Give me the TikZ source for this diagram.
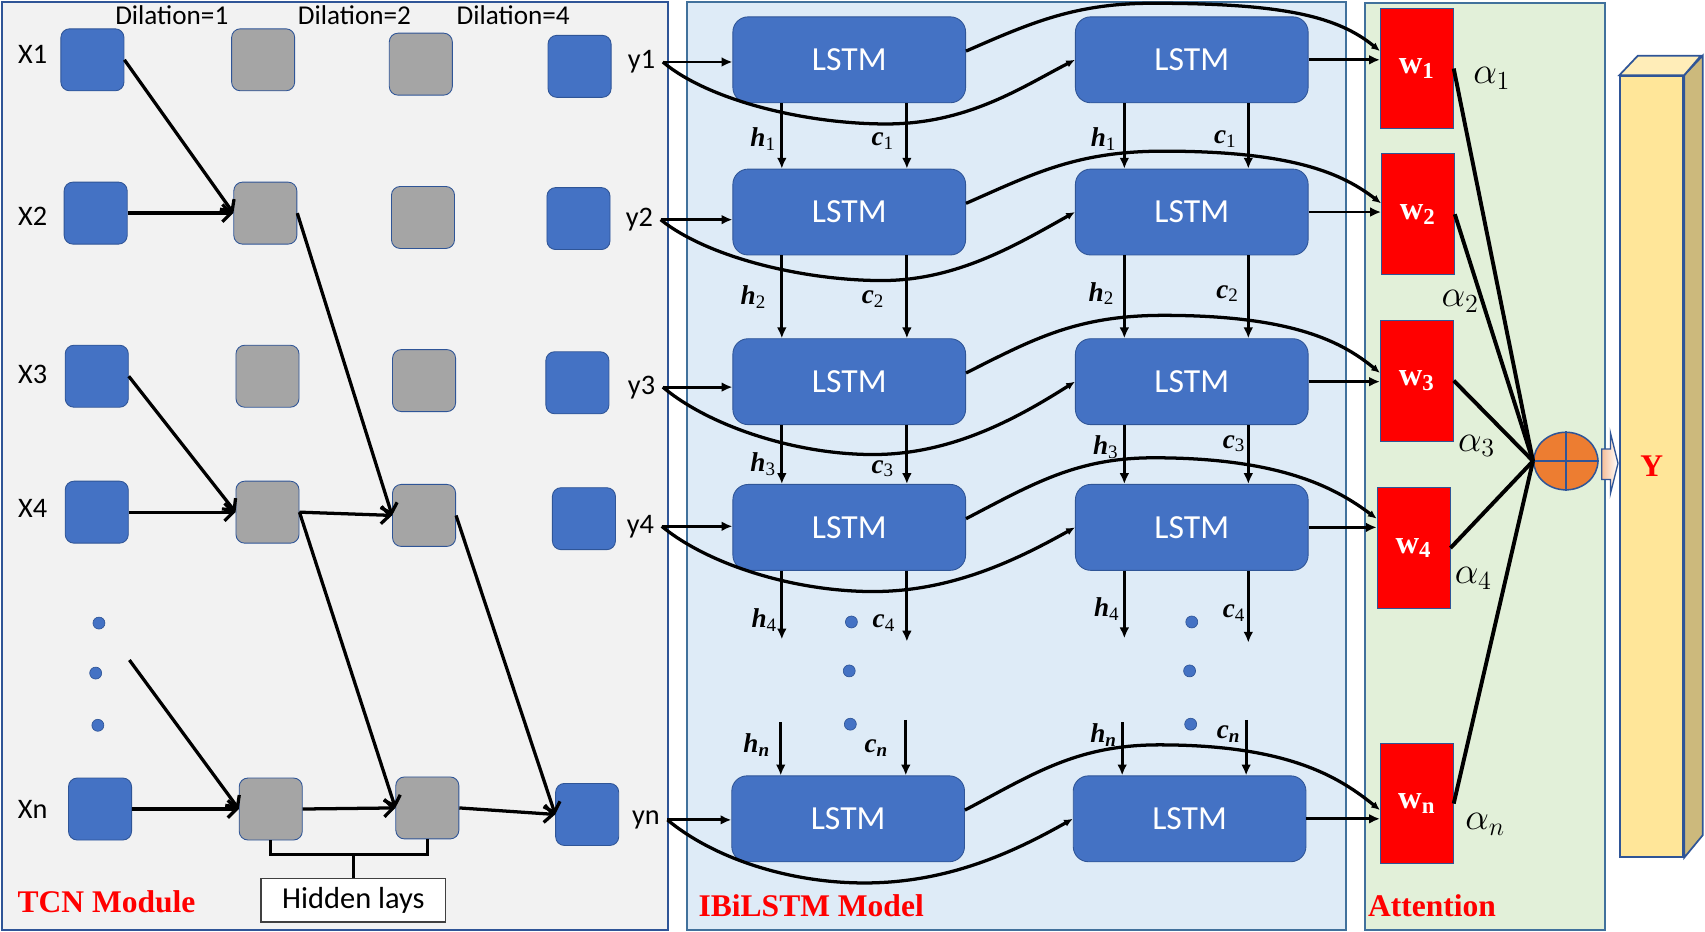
\documentclass[tikz,border=0pt]{standalone}
\usepackage{fontspec}
\setmainfont{Liberation Serif}
\newfontfamily\calfont{Carlito}
\usetikzlibrary{arrows.meta,calc,shapes.geometric}
\definecolor{boxblue}{HTML}{4472C4}
\definecolor{edgeblue}{HTML}{2F5597}
\definecolor{paneledge}{HTML}{41719C}
\definecolor{boxgray}{HTML}{A5A5A5}
\definecolor{tcnbg}{HTML}{F2F2F2}
\definecolor{lstmbg}{HTML}{DEEBF7}
\definecolor{attbg}{HTML}{E2F0D9}
\definecolor{yfront}{HTML}{FFE699}
\definecolor{yside}{HTML}{CCB97C}
\definecolor{sumorange}{HTML}{ED7D31}
\begin{document}
\begin{tikzpicture}
[x=0.5pt, y=-0.5pt,
inbox/.style={draw=edgeblue, fill=boxblue, rounded corners=4pt, minimum width=29pt, minimum height=28.5pt, inner sep=0pt},
hidbox/.style={inbox, fill=boxgray},
lstm/.style={draw=edgeblue, fill=boxblue, rounded corners=7pt, minimum width=107pt, minimum height=39.5pt, text=white, font=\calfont\fontsize{15.5}{18}\selectfont},
wbox/.style={draw=edgeblue, fill=red, minimum width=33.5pt, minimum height=55.5pt, inner sep=0pt, text=white, font=\bfseries\fontsize{15}{17}\selectfont},
dotmark/.style={circle, fill=boxblue, draw=edgeblue, line width=0.3pt, inner sep=0pt, minimum size=5.5pt},
lab/.style={font=\calfont\fontsize{13}{15}\selectfont},
hc/.style={font=\fontsize{12.5}{14}\selectfont},
al/.style={font=\fontsize{18}{20}\selectfont},
paneltitle/.style={text=red, font=\bfseries\fontsize{14.5}{17}\selectfont},
tcn/.style={line width=1.5pt, -{Straight Barb[length=4pt,width=8pt]}},
flow/.style={line width=1.3pt, -{Latex[length=5pt,width=4.5pt]}},
wave/.style={line width=1.5pt, -{Latex[length=4pt,width=3.5pt]}},
weight/.style={line width=1.8pt}]
\useasboundingbox (0,0) rectangle (1568,857);
\draw[edgeblue, line width=1pt, fill=tcnbg] (2,2) rectangle (614,855);
\draw[paneledge, line width=0.8pt, fill=lstmbg] (632,2) rectangle (1238,855);
\draw[paneledge, line width=0.8pt, fill=attbg] (1255,3) rectangle (1476,855);
\node[lab, font=\calfont\fontsize{12.5}{15}\selectfont] (dil1) at (158,14) {Dilation=1};
\node[lab, font=\calfont\fontsize{12.5}{15}\selectfont] (dil2) at (326,14) {Dilation=2};
\node[lab, font=\calfont\fontsize{12.5}{15}\selectfont] (dil4) at (472,14) {Dilation=4};
\node[lab] (lx1) at (30,50) {X1};
\node[lab] (lx2) at (30,199) {X2};
\node[lab] (lx3) at (30,344) {X3};
\node[lab] (lx4) at (30,468) {X4};
\node[lab] (lx5) at (30,744) {Xn};
\node[inbox] (in1) at (85,55) {};
\node[inbox] (in2) at (88,196) {};
\node[inbox] (in3) at (89,346) {};
\node[inbox] (in4) at (89,471) {};
\node[inbox] (in5) at (92,744) {};
\node[hidbox] (hA1) at (242,55) {};
\node[hidbox] (hA2) at (244,196) {};
\node[hidbox] (hA3) at (246,346) {};
\node[hidbox] (hA4) at (246,471) {};
\node[hidbox] (hA5) at (249,744) {};
\node[hidbox] (hB1) at (387,59) {};
\node[hidbox] (hB2) at (389,200) {};
\node[hidbox] (hB3) at (390,350) {};
\node[hidbox] (hB4) at (390,474) {};
\node[hidbox] (hB5) at (393,743) {};
\node[inbox] (out1) at (533,61) {};
\node[inbox] (out2) at (532,201) {};
\node[inbox] (out3) at (531,352) {};
\node[inbox] (out4) at (537,477) {};
\node[inbox] (out5) at (540,749) {};
\node[dotmark] (td1) at (91,573) {};
\node[dotmark] (td2) at (88,619) {};
\node[dotmark] (td3) at (90,667) {};
\coordinate (tdots) at (119,607);
\node[lab] (ly1) at (590,57) {y1};
\node[lab] (ly2) at (588,202) {y2};
\node[lab] (ly3) at (590,356) {y3};
\node[lab] (ly4) at (589,484) {y4};
\node[lab] (ly5) at (594,754) {yn};
\draw[tcn] (in1.east) -- (hA2.west);
\draw[tcn] (in2.east) -- (hA2.west);
\draw[tcn] (hA2.east) -- (hB4.west);
\draw[tcn] (in3.east) -- (hA4.west);
\draw[tcn] (in4.east) -- (hA4.west);
\draw[tcn] (hA4.east) -- (hB4.west);
\draw[tcn] (hA4.east) -- (hB5.west);
\draw[tcn] (hB4.east) -- (out5.west);
\draw[tcn] (tdots) -- (hA5.west);
\draw[tcn] (in5.east) -- (hA5.west);
\draw[tcn] (hA5.east) -- (hB5.west);
\draw[tcn] (hB5.east) -- (out5.west);
\node[draw=black!75, fill=white, line width=0.6pt, minimum width=85pt, minimum height=20pt, lab, font=\calfont\fontsize{14}{16}\selectfont] (hid) at (325,828) {Hidden lays};
\draw[line width=1.3pt] (hA5.south) -- ++(0,13) -| (hB5.south);
\draw[line width=1.3pt] (hid.north) -- ++(0,-22);
\node[paneltitle] (ttcn) at (98,829) {TCN Module};
\node[lstm] (L1) at (781,55) {LSTM};
\node[lstm] (L2) at (781,195) {LSTM};
\node[lstm] (L3) at (781,351) {LSTM};
\node[lstm] (L4) at (781,485) {LSTM};
\node[lstm] (L5) at (780,753) {LSTM};
\node[lstm] (R1) at (1096,55) {LSTM};
\node[lstm] (R2) at (1096,195) {LSTM};
\node[lstm] (R3) at (1096,351) {LSTM};
\node[lstm] (R4) at (1096,485) {LSTM};
\node[lstm] (R5) at (1094,753) {LSTM};
\draw[flow] (ly1.east) -- (ly1.east -| L1.west);
\draw[flow] (ly2.east) -- (ly2.east -| L2.west);
\draw[flow] (ly3.east) -- (ly3.east -| L3.west);
\draw[flow] (ly4.east) -- (ly4.east -| L4.west);
\draw[flow] (ly5.east) -- (ly5.east -| L5.west);
\draw[flow] ([xshift=-31pt]L1.south) -- ([xshift=-31pt]L2.north);
\draw[flow] ([xshift=26.5pt]L1.south) -- ([xshift=26.5pt]L2.north);
\draw[flow] ([xshift=-31pt]L2.south) -- ([xshift=-31pt]L3.north);
\draw[flow] ([xshift=26.5pt]L2.south) -- ([xshift=26.5pt]L3.north);
\draw[flow] ([xshift=-31pt]L3.south) -- ([xshift=-31pt]L4.north);
\draw[flow] ([xshift=26.5pt]L3.south) -- ([xshift=26.5pt]L4.north);
\draw[flow] ([xshift=-31pt]R1.south) -- ([xshift=-31pt]R2.north);
\draw[flow] ([xshift=26pt]R1.south) -- ([xshift=26pt]R2.north);
\draw[flow] ([xshift=-31pt]R2.south) -- ([xshift=-31pt]R3.north);
\draw[flow] ([xshift=26pt]R2.south) -- ([xshift=26pt]R3.north);
\draw[flow] ([xshift=-31pt]R3.south) -- ([xshift=-31pt]R4.north);
\draw[flow] ([xshift=26pt]R3.south) -- ([xshift=26pt]R4.north);
\coordinate (lh4) at (719,588);
\coordinate (lc4) at (834,590);
\coordinate (lhn) at (718,664);
\coordinate (lcn) at (833,662);
\coordinate (rh4) at (1034,587);
\coordinate (rc4) at (1148,591);
\coordinate (rhn) at (1032,664);
\coordinate (rcn) at (1146,662);
\draw[flow] ([xshift=-31pt]L4.south) -- (lh4);
\draw[flow] ([xshift=26.5pt]L4.south) -- (lc4);
\draw[flow] (lhn) -- ([xshift=-31pt]L5.north);
\draw[flow] (lcn) -- ([xshift=26.5pt]L5.north);
\draw[flow] ([xshift=-31pt]R4.south) -- (rh4);
\draw[flow] ([xshift=26pt]R4.south) -- (rc4);
\draw[flow] (rhn) -- ([xshift=-31pt]R5.north);
\draw[flow] (rcn) -- ([xshift=26pt]R5.north);
\node[dotmark] (ld1) at (783,572) {};
\node[dotmark] (ld2) at (781,617) {};
\node[dotmark] (ld3) at (782,666) {};
\node[dotmark] (rd1) at (1096,572) {};
\node[dotmark] (rd2) at (1094,617) {};
\node[dotmark] (rd3) at (1095,666) {};
\node[hc] (lh1) at (702,128) {{\bfseries\itshape h}\textsubscript{1}};
\node[hc] (lc1) at (812,130) {{\bfseries\itshape c}\textsubscript{1}};
\node[hc] (rh1) at (1015,128) {{\bfseries\itshape h}\textsubscript{1}};
\node[hc] (rc1) at (1127,128) {{\bfseries\itshape c}\textsubscript{1}};
\node[hc] (lh2) at (693,273) {{\bfseries\itshape h}\textsubscript{2}};
\node[hc] (lc2) at (803,275) {{\bfseries\itshape c}\textsubscript{2}};
\node[hc] (rh2) at (1013,270) {{\bfseries\itshape h}\textsubscript{2}};
\node[hc] (rc2) at (1129,270) {{\bfseries\itshape c}\textsubscript{2}};
\node[hc] (lh3) at (702,427) {{\bfseries\itshape h}\textsubscript{3}};
\node[hc] (lc3) at (812,431) {{\bfseries\itshape c}\textsubscript{3}};
\node[hc] (rh3) at (1017,411) {{\bfseries\itshape h}\textsubscript{3}};
\node[hc] (rc3) at (1135,408) {{\bfseries\itshape c}\textsubscript{3}};
\node[hc] (lh4t) at (703,570) {{\bfseries\itshape h}\textsubscript{4}};
\node[hc] (lc4t) at (813,573) {{\bfseries\itshape c}\textsubscript{4}};
\node[hc] (rh4t) at (1018,560) {{\bfseries\itshape h}\textsubscript{4}};
\node[hc] (rc4t) at (1135,564) {{\bfseries\itshape c}\textsubscript{4}};
\node[hc] (lhnt) at (696,685) {{\bfseries\itshape h\textsubscript{n}}};
\node[hc] (lcnt) at (806,688) {{\bfseries\itshape c\textsubscript{n}}};
\node[hc] (rhnt) at (1015,676) {{\bfseries\itshape h\textsubscript{n}}};
\node[hc] (rcnt) at (1130,675) {{\bfseries\itshape c\textsubscript{n}}};
\node[wbox] (w1) at (1303,63) {w\textsubscript{1}};
\node[wbox] (w2) at (1304,197) {w\textsubscript{2}};
\node[wbox] (w3) at (1303,350) {w\textsubscript{3}};
\node[wbox] (w4) at (1300,504) {w\textsubscript{4}};
\node[wbox] (w5) at (1303,739) {w\textsubscript{n}};
\draw[wave] (ly1.east) .. controls (651,92) and (740,114) .. (815,114) .. controls (890,114) and (940,80) .. (R1.west);
\draw[wave] (ly2.east) .. controls (651,237) and (740,258) .. (811,258) .. controls (880,258) and (935,225) .. (R2.west);
\draw[wave] (ly3.east) .. controls (651,391) and (730,418) .. (803,418) .. controls (875,418) and (935,385) .. (R3.west);
\draw[wave] (ly4.east) .. controls (651,519) and (730,544) .. (803,544) .. controls (875,544) and (935,515) .. (R4.west);
\draw[wave] (ly5.east) .. controls (656,789) and (725,812) .. (795,812) .. controls (870,812) and (930,785) .. (R5.west);
\draw[wave] ([yshift=4pt]L1.east) .. controls (950,20) and (990,3) .. (1060,3) .. controls (1180,3) and (1230,15) .. ($(R1.east -| w1.west)+(0,-8)$);
\draw[wave] ([yshift=4pt]L2.east) .. controls (950,160) and (990,139) .. (1070,139) .. controls (1190,139) and (1235,160) .. ($(R2.east -| w2.west)+(0,-8)$);
\draw[wave] ([yshift=4pt]L3.east) .. controls (950,312) and (990,290) .. (1070,290) .. controls (1190,290) and (1235,315) .. ($(R3.east -| w3.west)+(0,-8)$);
\draw[wave] ([yshift=4pt]L4.east) .. controls (950,445) and (990,421) .. (1061,421) .. controls (1180,421) and (1230,450) .. ($(R4.east -| w4.west)+(0,-8)$);
\draw[wave] ([yshift=4pt]L5.east) .. controls (950,712) and (990,685) .. (1066,685) .. controls (1185,685) and (1232,715) .. ($(R5.east -| w5.west)+(0,-8)$);
\draw[flow] (R1.east) -- (R1.east -| w1.west);
\draw[flow] (R2.east) -- (R2.east -| w2.west);
\draw[flow] (R3.east) -- (R3.east -| w3.west);
\draw[flow] (R4.east) -- (R4.east -| w4.west);
\draw[flow] (R5.east) -- (R5.east -| w5.west);
\node[paneltitle] (tlstm) at (746,833) {IBiLSTM Model};
\node[paneltitle] (tatt) at (1317,833) {Attention};
\node[ellipse, draw=edgeblue, fill=sumorange, line width=0.7pt, minimum width=29.5pt, minimum height=26.5pt, inner sep=0pt] (sum) at (1440,424) {};
\draw[edgeblue, line width=0.8pt] (sum.north) -- (sum.south) (sum.west) -- (sum.east);
\draw[weight] (w1.east) -- (sum.west);
\draw[weight] (w2.east) -- (sum.west);
\draw[weight] (w3.east) -- (sum.west);
\draw[weight] (w4.east) -- (sum.west);
\draw[weight] (w5.east) -- (sum.west);
\node[al] (a1) at (1372,72) {$\alpha_1$};
\node[al] (a2) at (1343,277) {$\alpha_2$};
\node[al] (a3) at (1358,410) {$\alpha_3$};
\node[al] (a4) at (1355,532) {$\alpha_4$};
\node[al] (a5) at (1366,758) {$\alpha_n$};
\node[draw=edgeblue, fill=yfront, line width=0.8pt, minimum width=29pt, minimum height=359pt, inner sep=0pt, paneltitle] (ybox) at (1519,429) {Y};
\draw[edgeblue, line width=0.8pt, fill=yside] (ybox.north east) -- ++(17,-18) -- ++(0,717) -- (ybox.south east) -- cycle;
\draw[edgeblue, line width=0.8pt, fill=yfront!70!white] (ybox.north west) -- ++(17,-18) -- ++(58,0) -- (ybox.north east) -- cycle;
\draw[edgeblue, line width=0.6pt, left color=sumorange!50, right color=white] (1473,413) -- (1481,413) -- (1481,398) -- (1488,426) -- (1481,454) -- (1481,441) -- (1473,441) -- cycle;
\end{tikzpicture}
\end{document}
